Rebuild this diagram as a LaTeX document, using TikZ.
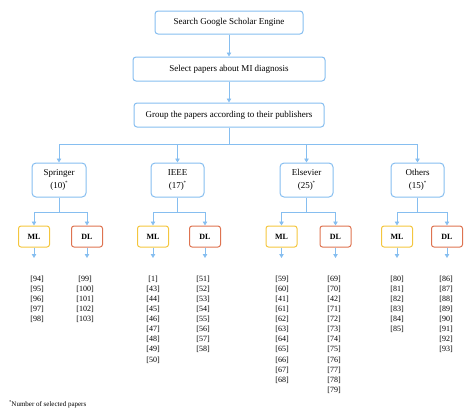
\documentclass[tikz,border=0pt]{standalone}
\usepackage{fontspec}
\setmainfont{Liberation Serif}
\usetikzlibrary{arrows.meta}
\definecolor{lblue}{HTML}{86BEF0}
\definecolor{myel}{HTML}{F4C63E}
\definecolor{mora}{HTML}{DE7350}
\tikzset{
  conn/.style={draw=lblue, line width=0.9pt},
  arr/.style={conn, -{Triangle[width=4.5pt,length=4pt]}},
  mainbox/.style={draw=lblue, line width=1pt, rounded corners=3pt, fill=white, font=\fontsize{9}{11}\selectfont, inner sep=0pt},
  pubbox/.style={draw=lblue, line width=1pt, rounded corners=4pt, fill=white, minimum width=54pt, minimum height=34pt, align=center, font=\fontsize{9}{13}\selectfont, inner sep=0pt},
  mlbox/.style={draw=myel, line width=1pt, rounded corners=2.5pt, minimum width=31pt, minimum height=21pt, font=\fontsize{8}{10}\selectfont\bfseries, inner sep=0pt},
  dlbox/.style={mlbox, draw=mora},
  reflist/.style={anchor=north, align=center, font=\fontsize{8}{10.1}\selectfont, inner sep=0pt},
}
\newcommand{\pubast}{\raisebox{4pt}{\fontsize{5}{5}\selectfont *}}
\newcommand{\rf}[1]{[#1]}
\begin{document}
\begin{tikzpicture}[x=1pt,y=-1pt]
\useasboundingbox (0,0) rectangle (474,416);
% main boxes
\node[mainbox, minimum width=148pt, minimum height=23pt] (s1) at (229,22.5) {Search Google Scholar Engine};
\node[mainbox, minimum width=192pt, minimum height=24pt] (s2) at (229,69) {Select papers about MI diagnosis};
\node[mainbox, minimum width=190pt, minimum height=24pt] (s3) at (229,115) {Group the papers according to their publishers};
\draw[arr] (s1) -- (s2);
\draw[arr] (s2) -- (s3);
\coordinate (j) at (229,144);
\draw[conn] (s3) -- (j);
% publishers
\node[pubbox] (spr) at (59,180) {Springer\\(10)\pubast};
\node[pubbox, minimum width=53pt] (iee) at (177.5,180) {IEEE\\(17)\pubast};
\node[pubbox, minimum width=53pt] (els) at (306.5,180) {Elsevier\\(25)\pubast};
\node[pubbox, minimum width=53pt] (oth) at (417.5,180) {Others\\(15)\pubast};
\foreach \p in {spr,iee,els,oth} {\draw[arr] (j) -| (\p.north);}
% ML / DL
\node[mlbox] (sml) at (34,236.5) {ML};
\node[dlbox] (sdl) at (87,236.5) {DL};
\node[mlbox] (iml) at (153,236.5) {ML};
\node[dlbox] (idl) at (205,236.5) {DL};
\node[mlbox] (eml) at (281.5,236.5) {ML};
\node[dlbox] (edl) at (335.5,236.5) {DL};
\node[mlbox] (oml) at (397,236.5) {ML};
\node[dlbox] (odl) at (447,236.5) {DL};
\coordinate (yl) at (0,212);
\foreach \p/\a/\b in {spr/sml/sdl, iee/iml/idl, els/eml/edl, oth/oml/odl} {
  \draw[conn] (\p.south) -- (\p.south |- yl);
  \draw[arr] (\p.south |- yl) -| (\a.north);
  \draw[arr] (\p.south |- yl) -| (\b.north);
}
% arrows below
\coordinate (sme) at (34,258); \coordinate (sde) at (87,258);
\coordinate (ime) at (153,258); \coordinate (ide) at (205,258);
\coordinate (eme) at (281.5,258); \coordinate (ede) at (335.5,258);
\coordinate (ome) at (397,258); \coordinate (ode) at (447,258);
\draw[arr] (sml) -- (sme);
\draw[arr] (sdl) -- (sde);
\draw[arr] (iml) -- (ime);
\draw[arr] (idl) -- (ide);
\draw[arr] (eml) -- (eme);
\draw[arr] (edl) -- (ede);
\draw[arr] (oml) -- (ome);
\draw[arr] (odl) -- (ode);
% reference lists
\node[reflist] (lsm) at (37,275.5) {\rf{94}\\\rf{95}\\\rf{96}\\\rf{97}\\\rf{98}};
\node[reflist] (lsd) at (85,275.5) {\rf{99}\\\rf{100}\\\rf{101}\\\rf{102}\\\rf{103}};
\node[reflist] (lim) at (153,275.5) {\rf{1}\\\rf{43}\\\rf{44}\\\rf{45}\\\rf{46}\\\rf{47}\\\rf{48}\\\rf{49}\\\rf{50}};
\node[reflist] (lid) at (203,275.5) {\rf{51}\\\rf{52}\\\rf{53}\\\rf{54}\\\rf{55}\\\rf{56}\\\rf{57}\\\rf{58}};
\node[reflist] (lem) at (282,275.5) {\rf{59}\\\rf{60}\\\rf{41}\\\rf{61}\\\rf{62}\\\rf{63}\\\rf{64}\\\rf{65}\\\rf{66}\\\rf{67}\\\rf{68}};
\node[reflist] (led) at (334,275.5) {\rf{69}\\\rf{70}\\\rf{42}\\\rf{71}\\\rf{72}\\\rf{73}\\\rf{74}\\\rf{75}\\\rf{76}\\\rf{77}\\\rf{78}\\\rf{79}};
\node[reflist] (lom) at (397,275.5) {\rf{80}\\\rf{81}\\\rf{82}\\\rf{83}\\\rf{84}\\\rf{85}};
\node[reflist] (lod) at (446,275.5) {\rf{86}\\\rf{87}\\\rf{88}\\\rf{89}\\\rf{90}\\\rf{91}\\\rf{92}\\\rf{93}};
% footnote
\node[anchor=west, inner sep=0pt, font=\fontsize{7}{8}\selectfont] (fn) at (9,404) {\raisebox{3pt}{\fontsize{4.5}{5}\selectfont *}Number of selected papers};
\end{tikzpicture}
\end{document}
